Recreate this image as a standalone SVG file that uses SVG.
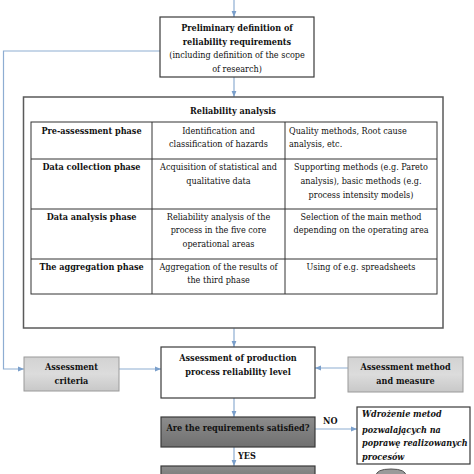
<svg xmlns="http://www.w3.org/2000/svg" width="474" height="474" viewBox="0 0 474 474" font-family="DejaVu Serif Condensed, DejaVu Serif, serif">
<style>
text{font-size:9px;fill:#111;font-stretch:condensed}
.b{font-weight:bold}
.bi{font-weight:bold;font-style:italic}
.c{text-anchor:middle}
.box{fill:#fff;stroke:#3a3a3a;stroke-width:1.2}
.lg{fill:url(#lightG);stroke:#9a9a9a;stroke-width:1}
.dg{fill:url(#darkG);stroke:#3a3a3a;stroke-width:1.2}
.tb{fill:none;stroke:#333;stroke-width:1}
.con{fill:none;stroke:#8eadd2;stroke-width:1.2}
</style>
<defs>
<linearGradient id="lightG" x1="0" y1="0" x2="0" y2="1">
<stop offset="0" stop-color="#d2d2d2"/>
<stop offset="0.5" stop-color="#dcdcdc"/>
<stop offset="1" stop-color="#c8c8c8"/>
</linearGradient>
<linearGradient id="darkG" x1="0" y1="0" x2="0" y2="1">
<stop offset="0" stop-color="#8c8c8c"/>
<stop offset="1" stop-color="#707070"/>
</linearGradient>
<marker id="arr" viewBox="0 0 10 10" refX="10" refY="5" markerWidth="5" markerHeight="5" orient="auto">
<path d="M0,1 L10,5 L0,9 z" fill="#7a9fcb"/>
</marker>
</defs>
<rect width="474" height="474" fill="#fff"/>

<g id="connectors">
<line class="con" x1="234" y1="0" x2="234" y2="17" marker-end="url(#arr)"/>
<line class="con" x1="234" y1="77" x2="234" y2="97" marker-end="url(#arr)"/>
<polyline class="con" points="160,51 3.5,51 3.5,369 24,369" marker-end="url(#arr)"/>
<line class="con" x1="234" y1="328" x2="234" y2="347" marker-end="url(#arr)"/>
<line class="con" x1="119" y1="369" x2="161" y2="369" marker-end="url(#arr)"/>
<line class="con" x1="348" y1="368" x2="315" y2="368" marker-end="url(#arr)"/>
<line class="con" x1="234" y1="398" x2="234" y2="417" marker-end="url(#arr)"/>
<line class="con" x1="315" y1="429" x2="357" y2="429" marker-end="url(#arr)"/>
<line class="con" x1="234" y1="447" x2="234" y2="466" marker-end="url(#arr)"/>
<text class="b" x="323" y="424">NO</text>
<text class="b" x="238" y="459">YES</text>
</g>

<g id="preliminary">
<rect class="box" x="160" y="17" width="154" height="60"/>
<text class="b c" x="237" y="30.5">Preliminary definition of</text>
<text class="b c" x="237" y="44.5">reliability requirements</text>
<text class="c" x="237" y="58">(including definition of the scope</text>
<text class="c" x="237" y="72">of research)</text>
</g>

<g id="reliability-analysis">
<rect x="23.5" y="97" width="419.5" height="231" fill="#fff" stroke="#5a5a5a" stroke-width="1.5"/>
<text class="b c" x="233" y="113.5">Reliability analysis</text>
<rect class="tb" x="31" y="122" width="406" height="172"/>
<line class="tb" x1="152" y1="122" x2="152" y2="294"/>
<line class="tb" x1="285" y1="122" x2="285" y2="294"/>
<line class="tb" x1="31" y1="159" x2="437" y2="159"/>
<line class="tb" x1="31" y1="209" x2="437" y2="209"/>
<line class="tb" x1="31" y1="259" x2="437" y2="259"/>

<text class="b c" x="91.5" y="133.5">Pre-assessment phase</text>
<text class="c" x="218.5" y="133.5">Identification and</text>
<text class="c" x="218.5" y="147">classification of hazards</text>
<text x="289" y="133.5">Quality methods, Root cause</text>
<text x="289" y="147">analysis, etc.</text>

<text class="b c" x="91.5" y="170">Data collection phase</text>
<text class="c" x="218.5" y="170">Acquisition of statistical and</text>
<text class="c" x="218.5" y="183.5">qualitative data</text>
<text class="c" x="361" y="170">Supporting methods (e.g. Pareto</text>
<text class="c" x="361" y="183.5">analysis), basic methods (e.g.</text>
<text class="c" x="361" y="197.5">process intensity models)</text>

<text class="b c" x="91.5" y="219.5">Data analysis phase</text>
<text class="c" x="218.5" y="219.5">Reliability analysis of the</text>
<text class="c" x="218.5" y="233">process in the five core</text>
<text class="c" x="218.5" y="246.5">operational areas</text>
<text class="c" x="361" y="219.5">Selection of the main method</text>
<text class="c" x="361" y="233">depending on the operating area</text>

<text class="b c" x="91.5" y="269.5">The aggregation phase</text>
<text class="c" x="218.5" y="269.5">Aggregation of the results of</text>
<text class="c" x="218.5" y="283">the third phase</text>
<text class="c" x="361" y="269.5">Using of e.g. spreadsheets</text>
</g>

<g id="assessment-criteria">
<rect class="lg" x="24" y="357" width="95" height="34"/>
<text class="b c" x="71.5" y="370">Assessment</text>
<text class="b c" x="71.5" y="384">criteria</text>
</g>

<g id="assessment-level">
<rect class="box" x="161" y="347" width="154" height="51"/>
<text class="b c" x="238" y="361">Assessment of production</text>
<text class="b c" x="238" y="375">process reliability level</text>
</g>

<g id="assessment-method">
<rect class="lg" x="348" y="357" width="115" height="35"/>
<text class="b c" x="405.5" y="370">Assessment method</text>
<text class="b c" x="405.5" y="384">and measure</text>
</g>

<g id="requirements-question">
<rect class="dg" x="161" y="417" width="154" height="30"/>
<text class="b c" x="238" y="430.5">Are the requirements satisfied?</text>
</g>

<g id="improvement">
<rect class="box" x="357" y="407" width="113" height="57"/>
<text class="bi" x="362" y="417">Wdrożenie metod</text>
<text class="bi" x="362" y="432.5">pozwalających na</text>
<text class="bi" x="362" y="446">poprawę realizowanych</text>
<text class="bi" x="362" y="460">procesów</text>
</g>

<g id="next-step">
<rect class="dg" x="161" y="466" width="154" height="20"/>
</g>

<g id="partial-shape">
<path d="M376,476 Q376,469 391,469 Q406,469 406,476 z" fill="#9a9a9a" stroke="#555" stroke-width="1"/>
</g>
</svg>
